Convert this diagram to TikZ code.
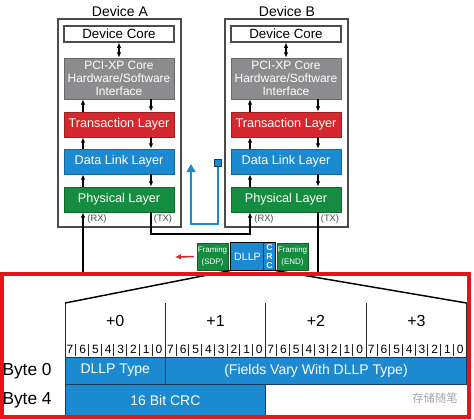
\documentclass[tikz,border=0pt]{standalone}
\usepackage{fontspec}
\setmainfont{Liberation Sans}
\newfontfamily\cjkfont{Noto Sans CJK SC}
\usetikzlibrary{arrows.meta}

\definecolor{layerred}{RGB}{213,40,45}
\definecolor{layerblue}{RGB}{27,138,208}
\definecolor{layergreen}{RGB}{22,140,64}
\definecolor{layergray}{RGB}{140,140,142}
\definecolor{boxgray}{RGB}{75,75,75}
\definecolor{cellline}{RGB}{20,60,90}
\definecolor{framered}{RGB}{230,20,25}

\tikzset{every picture/.style={line width=0.75pt}}
\tikzset{
  devbox/.style={draw=boxgray, line width=0.9pt, minimum width=92.25pt, minimum height=156pt, inner sep=0pt},
  devtitle/.style={font=\fontsize{10.5}{12}\selectfont, inner sep=0pt},
  corebox/.style={draw=boxgray, line width=0.9pt, fill=white, minimum width=82.5pt, minimum height=12pt, inner sep=0pt, font=\fontsize{10}{12}\selectfont},
  layer/.style={draw=#1!75!black, fill=#1, text=white, line width=0.6pt, minimum width=82.5pt, minimum height=18.75pt, inner sep=0pt, font=\fontsize{9.5}{11}\selectfont},
  port/.style={font=\fontsize{7}{8}\selectfont, text=boxgray, inner sep=0pt},
  arr/.style={-{Latex[length=4pt,width=3.5pt]}, line width=0.8pt},
  dblarr/.style={{Latex[length=4pt,width=3.5pt]}-{Latex[length=4pt,width=3.5pt]}, line width=0.8pt},
  wire/.style={line width=0.8pt},
  loopline/.style={draw=layerblue, line width=1.6pt, -{Triangle[length=6pt,width=6.5pt]}},
  sqmark/.style={draw=cellline, fill=layerblue, line width=0.5pt, minimum size=5.5pt, inner sep=0pt},
  framing/.style={fill=layergreen, draw=layergreen!70!black, line width=0.5pt, text=white, minimum width=23.25pt, minimum height=20.25pt, inner sep=0pt, align=center, font=\fontsize{6}{9}\selectfont},
  pkt/.style={fill=layerblue, text=white, minimum height=20.25pt, inner sep=0pt, align=center},
  redarr/.style={draw=layerred, line width=1.2pt, -{Latex[length=4.5pt,width=4.5pt]}},
  zoomline/.style={line width=1.1pt},
  bytetick/.style={line width=0.7pt, draw=black!85},
  bytehead/.style={font=\fontsize{12}{14}\selectfont, inner sep=0pt},
  bitnum/.style={font=\fontsize{9}{10}\selectfont, inner sep=0pt},
  cell/.style={fill=layerblue, draw=cellline, line width=0.7pt, text=white, minimum height=20.25pt, inner sep=0pt, font=\fontsize{10.5}{12}\selectfont},
  bytelabel/.style={font=\fontsize{13}{15}\selectfont, anchor=west, inner sep=0pt},
  redframe/.style={draw=framered, line width=3pt},
}

\begin{document}
\begin{tikzpicture}[x=0.75pt,y=0.75pt,yscale=-1,xscale=1]
	\useasboundingbox (0,0) rectangle (474,419);

	% Devices A and B
	\foreach \dv/\sx in {A/0,B/167}{
	\begin{scope}[shift={(\sx,0)}]
		\node[devbox] (dev\dv) at (119.5,123) {};
		\node[devtitle] (title\dv) at (120,11) {Device \dv};
		\node[corebox] (core\dv) at (119,34) {Device Core};
		\node[layer=layergray, minimum height=30.75pt, align=center, font=\fontsize{9}{9.75}\selectfont] (pci\dv) at (119,78.5) {PCI-XP Core\\Hardware/Software\\Interface};
		\node[layer=layerred] (tl\dv) at (119,124.5) {Transaction Layer};
		\node[layer=layerblue] (dl\dv) at (119,161.5) {Data Link Layer};
		\node[layer=layergreen] (pl\dv) at (119,199.5) {Physical Layer};
		\coordinate (up\dv) at (83,0);
		\coordinate (dn\dv) at (151,0);
		\node[port] (rx\dv) at (97,219) {(RX)};
		\node[port] (tx\dv) at (163,219) {(TX)};
		% layer arrows
		\draw[dblarr] (core\dv) -- (pci\dv);
		\draw[arr] (up\dv |- tl\dv.north) -- (up\dv |- pci\dv.south);
		\draw[arr] (dn\dv |- pci\dv.south) -- (dn\dv |- tl\dv.north);
		\draw[arr] (up\dv |- dl\dv.north) -- (up\dv |- tl\dv.south);
		\draw[arr] (dn\dv |- tl\dv.south) -- (dn\dv |- dl\dv.north);
		\draw[arr] (up\dv |- pl\dv.north) -- (up\dv |- dl\dv.south);
		\draw[arr] (dn\dv |- dl\dv.south) -- (dn\dv |- pl\dv.north);
	\end{scope}
	}

	% Link wires
	\coordinate (lnk) at (0,234);
	\coordinate (bus) at (0,274);
	\draw[arr] (upA |- bus) -- (upA |- plA.south);
	\draw[arr] (dnA |- plA.south) -- (dnA |- lnk) -| (upB |- plB.south);
	\draw[wire] (dnB |- plB.south) -- (dnB |- bus);

	% Blue loop
	\node[sqmark] (sq) at (218,163) {};
	\coordinate (loopR) at (218,224);
	\coordinate (loopL) at (191,224);
	\coordinate (loopTip) at (191,164);
	\draw[loopline] (sq) -- (loopR) -- (loopL) -- (loopTip);

	% DLLP packet
	\node[framing] (sdp) at (212.5,256.5) {Framing\\(SDP)};
	\node[pkt, minimum width=24.75pt, font=\fontsize{8}{9}\selectfont] (dllp) at (247.5,256.5) {DLLP};
	\node[pkt, minimum width=8.25pt, font=\bfseries\fontsize{6.5}{6.5}\selectfont] (crc) at (269.5,256.5) {C\\R\\C};
	\draw[draw=cellline, line width=0.5pt] (crc.north west) -- (crc.south west);
	\draw[line width=1.2pt] (dllp.north west) rectangle (crc.south east);
	\node[framing] (endf) at (292.5,256.5) {Framing\\(END)};
	\coordinate (outL) at (175,257);
	\draw[redarr, shorten <=2pt] (sdp.west) -- (outL);

	% Byte table
	\foreach \i in {0,...,4}{
		\coordinate (b\i) at (65+100.4*\i,303);
		\draw[bytetick] (b\i) -- ++(0,54);
	}
	\foreach \i/\lab in {0/+0,1/+1,2/+2,3/+3}{
		\node[bytehead] (head\i) at (115.2+100.4*\i,321) {\lab};
		\foreach \k in {0,...,7}{
			\pgfmathtruncatemacro\bitv{7-\k}
			\node[bitnum] (bit\i\k) at (70+100.4*\i+12.7*\k,349.5) {\bitv};
		}
		\foreach \k in {0,...,6}
			\draw[bytetick] (75.8+100.4*\i+12.7*\k,344) -- ++(0,12);
	}

	% Zoom lines
	\draw[zoomline] (b0) -- (dllp.south west);
	\draw[zoomline] (b4) -- (crc.south east);

	% Fields
	\node[cell, minimum width=75.3pt] (ftype) at (115.2,370.5) {DLLP Type};
	\node[cell, minimum width=225.9pt] (fvary) at (316,370.5) {(Fields Vary With DLLP Type)};
	\node[cell, minimum width=150.6pt, minimum height=24pt] (fcrc) at (165.4,400.5) {16 Bit CRC};
	\node[bytelabel] (row0) at (2,371) {Byte 0};
	\node[bytelabel] (row4) at (2,400) {Byte 4};

	% Text Node
	\node[text=black!35, font=\cjkfont\fontsize{8.5}{10}\selectfont] (wm) at (435,398) {存储随笔};

	% Red frame
	\draw[redframe] (2,274) rectangle (469,416.5);

\end{tikzpicture}
\end{document}
